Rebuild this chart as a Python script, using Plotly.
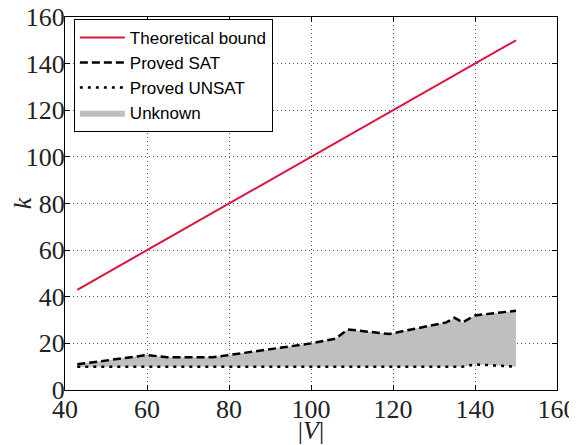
import plotly.graph_objects as go

# Data
v_bound = [43, 150]
k_bound = [43, 150]

v_points = [43, 60, 65, 76, 80, 100, 106, 109, 119, 133, 135, 137, 140, 150]
k_sat = [11, 15, 14, 14, 15, 20, 22, 26, 24, 29, 31, 29, 32, 34]
k_unsat = [10, 10, 10, 10, 10, 10, 10, 10, 10, 10, 10, 10, 11, 10]

x_ticks = [40, 60, 80, 100, 120, 140, 160]
y_ticks = [0, 20, 40, 60, 80, 100, 120, 140, 160]

fig = go.Figure()

# fill base (UNSAT) and fill (Unknown)
fig.add_trace(go.Scatter(x=v_points, y=k_unsat, mode="lines",
                         line=dict(width=0, color="rgba(0,0,0,0)"),
                         showlegend=False, hoverinfo="skip"))
fig.add_trace(go.Scatter(x=v_points, y=k_sat, mode="lines", fill="tonexty",
                         fillcolor="#bfbfbf", line=dict(width=0, color="#bfbfbf"),
                         name="Unknown", legendrank=4, legendgroup="d"))

fig.add_trace(go.Scatter(x=v_bound, y=k_bound, mode="lines",
                         line=dict(color="#dc143c", width=2),
                         name="Theoretical bound", legendrank=1, legendgroup="a"))
fig.add_trace(go.Scatter(x=v_points, y=k_sat, mode="lines",
                         line=dict(color="black", width=2.5, dash="8px,4px"),
                         name="Proved SAT", legendrank=2, legendgroup="b"))
fig.add_trace(go.Scatter(x=v_points, y=k_unsat, mode="lines",
                         line=dict(color="black", width=2.5, dash="3px,5px"),
                         name="Proved UNSAT", legendrank=3, legendgroup="c"))

axis_font = dict(family="Liberation Serif", size=26, color="#222")

fig.update_layout(
    width=569, height=437,
    margin=dict(l=57, r=20, t=9, b=55),
    plot_bgcolor="white", paper_bgcolor="white",
    showlegend=True,
    legend=dict(x=0.018, y=0.995, xanchor="left", yanchor="top",
                bordercolor="black", borderwidth=1, bgcolor="white",
                font=dict(family="Liberation Sans", size=17, color="black"),
                tracegroupgap=0, itemwidth=45),
    xaxis=dict(range=[40, 160], tickvals=x_ticks, ticktext=[str(t) for t in x_ticks],
               showgrid=True, gridcolor="#555", griddash="1px,3px", gridwidth=1,
               showline=True, linecolor="black", linewidth=1.2, mirror="allticks",
               ticks="inside", ticklen=5, tickcolor="black",
               tickfont=axis_font, zeroline=False, automargin=False,
               ticklabeloverflow="allow", ticklabelstandoff=-4,
               title=dict(text="|<i>V</i>|", font=dict(family="Liberation Serif", size=26, color="#222"),
                          standoff=6)),
    yaxis=dict(range=[0, 160], tickvals=y_ticks, ticktext=[str(t) for t in y_ticks],
               showgrid=True, gridcolor="#555", griddash="1px,3px", gridwidth=1,
               showline=True, linecolor="black", linewidth=1.2, mirror="allticks",
               ticks="inside", ticklen=5, tickcolor="black",
               tickfont=axis_font, zeroline=False, automargin=False,
               ticklabeloverflow="allow", ticklabelstandoff=-6,
               title=dict(text="<i>k</i>", font=dict(family="Liberation Serif", size=26, color="#222"),
                          standoff=2)),
)

fig.write_html("out.html")
